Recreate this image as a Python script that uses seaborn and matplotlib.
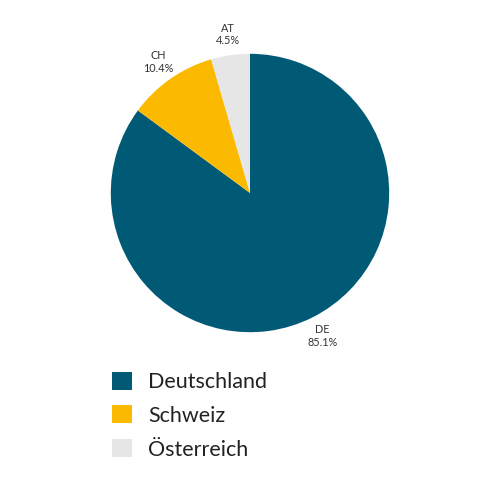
import matplotlib
matplotlib.use("Agg")
import matplotlib.pyplot as plt
import seaborn as sns
import numpy as np
from matplotlib.patches import Patch

sns.set_theme(style="white")
plt.rcParams['font.family'] = ['Lato', 'DejaVu Sans']

codes = ["DE", "CH", "AT"]
names = ["Deutschland", "Schweiz", "Österreich"]
values = [85.1, 10.4, 4.5]
colors = ["#005a75", "#fbb900", "#e6e6e6"]

fig = plt.figure(figsize=(5, 5), dpi=100)
ax = fig.add_axes([0.152, 0.266, 0.696, 0.696])
wedges, _ = ax.pie(values, colors=colors, startangle=90, counterclock=False,
                   wedgeprops=dict(linewidth=0))
for w, c, v in zip(wedges, codes, values):
    ang = np.deg2rad((w.theta1 + w.theta2) / 2)
    r = 1.15
    ax.text(r * np.cos(ang), r * np.sin(ang), f"{c}\n{v}%", ha="center", va="center",
            fontsize=7.8, color="#333333", linespacing=1.2)
ax.set_aspect("equal")

handles = [Patch(facecolor=c, edgecolor="none") for c in colors]
fig.legend(handles, names, loc="upper left", bbox_to_anchor=(0.203, 0.278),
           frameon=False, fontsize=15.5, handlelength=0.9, handleheight=0.9,
           labelspacing=0.62, handletextpad=0.75, borderpad=0, labelcolor="#222222")
fig.savefig("out.png", dpi=100)
